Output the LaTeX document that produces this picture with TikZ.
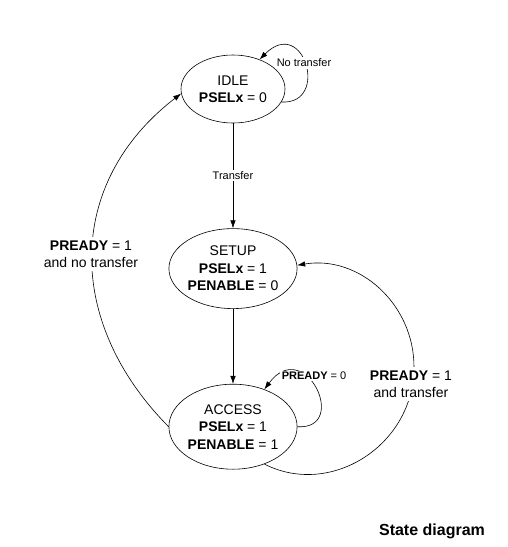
\documentclass[tikz,border=0pt]{standalone}
\usepackage{fontspec}
\setmainfont{Liberation Sans}
\usetikzlibrary{shapes.geometric, arrows.meta, positioning}

\begin{document}
\begin{tikzpicture}[
    x=1pt, y=1pt,
    state/.style={ellipse, draw=black, line width=0.6pt, inner sep=0pt, align=center, font=\fontsize{14}{17.5}\selectfont},
    lbl/.style={fill=white, inner sep=1.5pt, font=\fontsize{11}{13}\selectfont},
    biglbl/.style={fill=white, inner sep=4pt, align=center, font=\fontsize{14}{16.5}\selectfont},
    arrow/.style={-{Latex[length=8pt, width=5.5pt]}, line width=0.6pt, black}
]
\useasboundingbox (0,0) rectangle (507,-547);

% States
\node[state, minimum width=104pt, minimum height=68pt] (idle) at (233,-89) {IDLE\\\textbf{PSELx} = 0};
\node[state, minimum width=127pt, minimum height=80pt, below=105pt of idle] (setup) {SETUP\\\textbf{PSELx} = 1\\\textbf{PENABLE} = 0};
\node[state, minimum width=127pt, minimum height=85pt, below=75pt of setup] (access) {ACCESS\\\textbf{PSELx} = 1\\\textbf{PENABLE} = 1};

% Edges
\draw[arrow] (idle) -- node[lbl] (trans) {Transfer} (setup);
\draw[arrow] (setup) -- (access);

\draw[arrow] (idle.-15) .. controls (330,-105) and (304,-15) .. (idle.48);
\node[lbl] (notrans) at (304,-63) {No transfer};

\draw[arrow] (access.0) .. controls (350,-430) and (305,-335) .. (access.50);
\node[lbl] (ready0) at (314,-376) {\textbf{PREADY} = 0};

\draw[arrow] (access.180) .. controls (64.8,-321.8) and (65,-183) .. (idle.185);
\node[biglbl] (readyidle) at (91,-254) {\textbf{PREADY} = 1\\and no transfer};

\draw[arrow] (access.-50) .. controls (331,-498) and (414,-445) .. (414,-367)
    .. controls (414,-304) and (359,-255) .. (setup.3);
\node[biglbl] (readysetup) at (411,-384) {\textbf{PREADY} = 1\\and transfer};

% Caption
\node[font=\fontsize{16}{18}\selectfont\bfseries] (caption) at (432,-531) {State diagram};
\end{tikzpicture}
\end{document}
